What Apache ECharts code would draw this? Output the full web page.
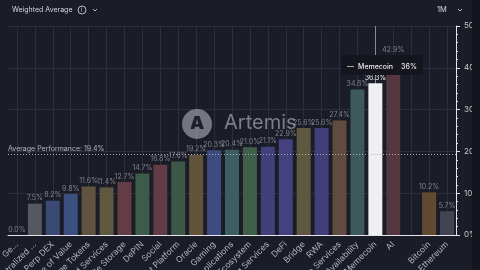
<!DOCTYPE html>
<html>
<head>
<meta charset="utf-8">
<script src="https://cdn.jsdelivr.net/npm/echarts@6/dist/echarts.min.js"></script>
<style>
  html, body { margin: 0; padding: 0; background: #1a1c27; }
  #perf-chart { width: 480px; height: 270px; }
</style>
</head>
<body>
<div id="perf-chart"></div>
<script>
// sectors, left to right ('' = empty slot before the majors)
const categories = [
  "Ge...", "Decentralized ...", "Perp DEX", "Store of Value", "Exchange Tokens",
  "Cloud Services", "File Storage", "DePIN", "Social", "Content Platform",
  "Oracle", "Gaming", "Applications", "Ecosystem", "Staking Services",
  "DeFi", "Bridge", "RWA", "Data Services", "Data Availability",
  "Memecoin", "AI", "", "Bitcoin", "Ethereum"
];
const performance = [
  0.0, 7.5, 8.2, 9.8, 11.6,
  11.4, 12.7, 14.7, 16.8, 17.6,
  19.2, 20.3, 20.4, 21.0, 21.1,
  22.9, 25.6, 25.6, 27.4, 34.8,
  36.3, 42.9, null, 10.2, 5.7
];
const barColors = [
  "#4a4d55", "#55585f", "#3a4a74", "#3c5080", "#625240",
  "#5e5840", "#633c46", "#3c5c4a", "#623c46", "#3d5848",
  "#62543c", "#3c4c7e", "#3c5e62", "#405f4a", "#42407a",
  "#45407e", "#5e5840", "#423f78", "#604c3e", "#3c5a5a",
  "#efeff1", "#553740", "#000000", "#624a32", "#414553"
];
const averagePerf = 19.4;
const highlighted = 20; // Memecoin
const yTicks = [0, 10, 20, 30, 40, 50];

const chart = echarts.init(document.getElementById('perf-chart'));

let option = {
  backgroundColor: '#1a1c27',
  animation: false,
  textStyle: { fontFamily: 'Inter' },
  grid: { left: 8, right: 24, top: 26, bottom: 35, containLabel: false, outerBoundsMode: 'none' },
  tooltip: {
    trigger: 'axis',
    alwaysShowContent: true,
    transitionDuration: 0,
    backgroundColor: '#15161d',
    borderColor: '#15161d',
    borderWidth: 0,
    padding: [4, 6],
    extraCssText: 'box-shadow:none;border-radius:2px;line-height:9px;',
    axisPointer: {
      type: 'line',
      z: 0,
      lineStyle: { color: '#8a8c94', width: 1, type: 'solid' }
    },
    position: function (point) {
      return [point[0] - 34, 55];
    },
    formatter: function (params) {
      const p = params[0];
      return '<span style="font:500 7px Inter;color:#e8e8ea;">' +
        '<span style="margin-right:4px;">&mdash;</span>' + p.name +
        '<span style="margin-left:8px;">' + Math.round(p.value) + '%</span></span>';
    }
  },
  xAxis: {
    type: 'category',
    data: categories,
    axisLine: { lineStyle: { color: '#e6e6ea', width: 1 } },
    axisTick: { alignWithLabel: true, length: 4, lineStyle: { color: '#e6e6ea' } },
    splitLine: { show: true, alignWithLabel: true, lineStyle: { color: '#2b2e3b', width: 1 } },
    axisLabel: {
      interval: 0,
      rotate: 45,
      fontSize: 8.5,
      color: '#b4b6be',
      margin: 8
    }
  },
  yAxis: {
    type: 'value',
    position: 'right',
    min: yTicks[0],
    max: yTicks[yTicks.length - 1],
    interval: 10,
    axisLine: { show: true, lineStyle: { color: '#e6e6ea' } },
    axisTick: { show: true, length: 4, lineStyle: { color: '#e6e6ea' } },
    minorTick: { show: true, splitNumber: 5, length: 2, lineStyle: { color: '#e6e6ea' } },
    splitLine: { lineStyle: { color: '#2b2e3b', width: 1 } },
    axisLabel: { fontSize: 8, color: '#c8c8cc', margin: 8, formatter: '{value}%' }
  },
  series: [
    {
      name: 'Performance',
      type: 'bar',
      barWidth: '78%',
      z: 3,
      emphasis: { disabled: true },
      data: performance.map((v, i) => ({
        value: v,
        itemStyle: { color: barColors[i] },
        label: i === highlighted ? { color: '#f2f2f4' } : undefined
      })),
      label: {
        show: true,
        position: 'top',
        distance: 2,
        fontSize: 7,
        color: '#80828c',
        formatter: p => p.value == null ? '' : p.value.toFixed(1) + '%'
      },
      markLine: {
        silent: true,
        symbol: 'none',
        lineStyle: { color: '#a8aab4', type: [1, 2], width: 1 },
        label: {
          position: 'insideStartTop',
          distance: [0, 2],
          fontSize: 7,
          color: '#b4b6be',
          formatter: 'Average Performance: ' + averagePerf + '%'
        },
        data: [{ yAxis: averagePerf }]
      }
    }
  ],
  graphic: [
    // header
    { type: 'text', left: 12, top: 6, style: { text: 'Weighted Average', fontSize: 7, fill: '#d6d7dc', fontFamily: 'Inter' } },
    { type: 'circle', shape: { cx: 82, cy: 10, r: 4 }, style: { fill: 'none', stroke: '#c8c9ce', lineWidth: 0.9 } },
    { type: 'text', x: 81, y: 7, style: { text: 'i', fontSize: 5.5, fill: '#c8c9ce', fontFamily: 'Inter' } },
    { type: 'polyline', shape: { points: [[93, 9], [95, 11], [97, 9]] }, style: { stroke: '#c8c9ce', lineWidth: 0.9, fill: 'none' } },
    { type: 'text', left: 437, top: 6, style: { text: '1M', fontSize: 7.5, fill: '#d6d7dc', fontFamily: 'Inter' } },
    { type: 'polyline', shape: { points: [[458, 9], [460, 11], [462, 9]] }, style: { stroke: '#c8c9ce', lineWidth: 0.9, fill: 'none' } },
    // watermark
    { type: 'circle', shape: { cx: 197, cy: 124, r: 15 }, style: { fill: 'rgba(190,192,200,0.55)' }, z: 50 },
    { type: 'text', x: 190, y: 115, style: { text: 'A', fontSize: 18, fontWeight: 900, fill: '#1e2029', fontFamily: 'Inter' }, z: 51 },
    { type: 'text', x: 224, y: 113, style: { text: 'Artemis', fontSize: 20, fill: 'rgba(190,192,200,0.6)', fontFamily: 'Inter' }, z: 50 },
    // right scroll strip
    { type: 'rect', shape: { x: 472, y: 0, width: 8, height: 270 }, style: { fill: '#15161d' }, z: 100 }
  ]
};

chart.setOption(option);
chart.dispatchAction({ type: 'showTip', seriesIndex: 0, dataIndex: highlighted });
</script>
</body>
</html>
